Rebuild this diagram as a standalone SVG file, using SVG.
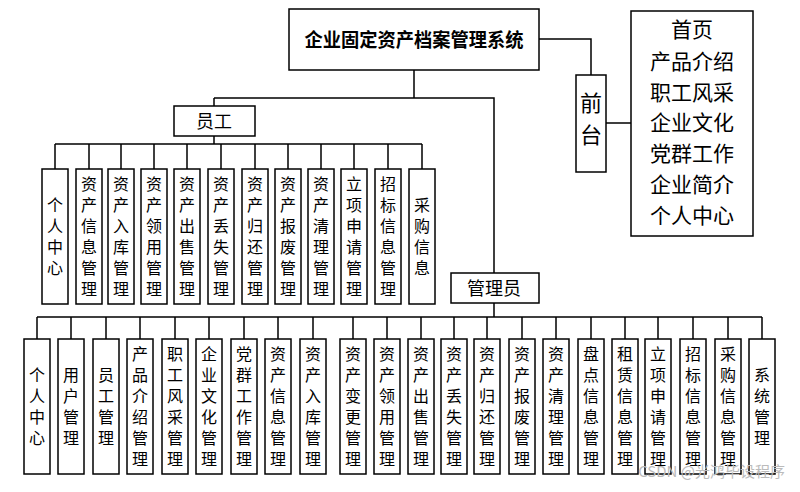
<svg xmlns="http://www.w3.org/2000/svg" width="800" height="492" viewBox="0 0 800 492">
<style>
rect{fill:#fff;stroke:#000;stroke-width:1.5}
.c path{fill:none;stroke:#000;stroke-width:1.5}
text{font-family:"Noto Sans CJK SC",sans-serif;fill:#000}
.v{writing-mode:vertical-rl;text-anchor:middle;font-size:16px;letter-spacing:5px}
.h{text-anchor:middle;font-size:20px}
</style>
<rect x="0" y="0" width="800" height="492" style="stroke:none"/>
<g class="c">
<path d="M414 70V98M214 98H494V273M214 98V106M539 39H591V75M606 123H631"/>
<path d="M214 136V144M55 144H422M55 144V169M89 144V169M121 144V169M154 144V169M187 144V169M221 144V169M255 144V169M288 144V169M321 144V169M354 144V169M388 144V169M422 144V169"/>
<path d="M494 303V317M37 317H762M37 317V339M71 317V339M106 317V339M140 317V339M175 317V339M209 317V339M244 317V339M278 317V339M313 317V339M353 317V339M387 317V339M421 317V339M454 317V339M487 317V339M522 317V339M556 317V339M591 317V339M625 317V339M658 317V339M693 317V339M728 317V339M762 317V339"/>
</g>
<g id="root"><rect x="289" y="9" width="250" height="61"/><text x="414" y="47" class="h" style="font-size:19px;font-weight:bold" textLength="219" lengthAdjust="spacingAndGlyphs">企业固定资产档案管理系统</text></g>
<g id="qiantai"><rect x="576" y="75" width="30" height="97"/><text x="591" y="124" class="v" style="font-size:22px;letter-spacing:10px">前台</text></g>
<g id="qtlist"><rect x="631" y="11" width="122" height="225"/>
<text class="h" style="font-size:21px"><tspan x="692" y="37">首页</tspan><tspan x="692" y="69">产品介绍</tspan><tspan x="692" y="100">职工风采</tspan><tspan x="692" y="130">企业文化</tspan><tspan x="692" y="161">党群工作</tspan><tspan x="692" y="192">企业简介</tspan><tspan x="692" y="223">个人中心</tspan></text></g>
<g id="yuangong"><rect x="174" y="106" width="81" height="30"/><text x="214" y="128" class="h" style="font-size:18px">员工</text></g>
<g id="guanliyuan"><rect x="451" y="273" width="88" height="30"/><text x="494" y="295" class="h" style="font-size:18px">管理员</text></g>
<g id="emp">
<rect x="42" y="169" width="26" height="135"/><text x="55" y="239" class="v">个人中心</text>
<rect x="76" y="169" width="26" height="135"/><text x="89" y="239" class="v">资产信息管理</text>
<rect x="108" y="169" width="26" height="135"/><text x="121" y="239" class="v">资产入库管理</text>
<rect x="141" y="169" width="26" height="135"/><text x="154" y="239" class="v">资产领用管理</text>
<rect x="174" y="169" width="26" height="135"/><text x="187" y="239" class="v">资产出售管理</text>
<rect x="208" y="169" width="26" height="135"/><text x="221" y="239" class="v">资产丢失管理</text>
<rect x="242" y="169" width="26" height="135"/><text x="255" y="239" class="v">资产归还管理</text>
<rect x="275" y="169" width="26" height="135"/><text x="288" y="239" class="v">资产报废管理</text>
<rect x="308" y="169" width="26" height="135"/><text x="321" y="239" class="v">资产清理管理</text>
<rect x="341" y="169" width="26" height="135"/><text x="354" y="239" class="v">立项申请管理</text>
<rect x="375" y="169" width="26" height="135"/><text x="388" y="239" class="v">招标信息管理</text>
<rect x="409" y="169" width="26" height="135"/><text x="422" y="239" class="v">采购信息</text>
</g>
<g id="adm">
<rect x="24" y="339" width="26" height="135"/><text x="37" y="409" class="v">个人中心</text>
<rect x="58" y="339" width="26" height="135"/><text x="71" y="409" class="v">用户管理</text>
<rect x="93" y="339" width="26" height="135"/><text x="106" y="409" class="v">员工管理</text>
<rect x="127" y="339" width="26" height="135"/><text x="140" y="409" class="v">产品介绍管理</text>
<rect x="162" y="339" width="26" height="135"/><text x="175" y="409" class="v">职工风采管理</text>
<rect x="196" y="339" width="26" height="135"/><text x="209" y="409" class="v">企业文化管理</text>
<rect x="231" y="339" width="26" height="135"/><text x="244" y="409" class="v">党群工作管理</text>
<rect x="265" y="339" width="26" height="135"/><text x="278" y="409" class="v">资产信息管理</text>
<rect x="300" y="339" width="26" height="135"/><text x="313" y="409" class="v">资产入库管理</text>
<rect x="340" y="339" width="26" height="135"/><text x="353" y="409" class="v">资产变更管理</text>
<rect x="374" y="339" width="26" height="135"/><text x="387" y="409" class="v">资产领用管理</text>
<rect x="408" y="339" width="26" height="135"/><text x="421" y="409" class="v">资产出售管理</text>
<rect x="441" y="339" width="26" height="135"/><text x="454" y="409" class="v">资产丢失管理</text>
<rect x="474" y="339" width="26" height="135"/><text x="487" y="409" class="v">资产归还管理</text>
<rect x="509" y="339" width="26" height="135"/><text x="522" y="409" class="v">资产报废管理</text>
<rect x="543" y="339" width="26" height="135"/><text x="556" y="409" class="v">资产清理管理</text>
<rect x="578" y="339" width="26" height="135"/><text x="591" y="409" class="v">盘点信息管理</text>
<rect x="612" y="339" width="26" height="135"/><text x="625" y="409" class="v">租赁信息管理</text>
<rect x="645" y="339" width="26" height="135"/><text x="658" y="409" class="v">立项申请管理</text>
<rect x="680" y="339" width="26" height="135"/><text x="693" y="409" class="v">招标信息管理</text>
<rect x="715" y="339" width="26" height="135"/><text x="728" y="409" class="v">采购信息管理</text>
<rect x="749" y="339" width="26" height="135"/><text x="762" y="409" class="v">系统管理</text>
</g>
<text x="785" y="477" style="font-size:15px;fill:#bbb;text-anchor:end">CSDN @光鸿毕设程序</text>
</svg>
